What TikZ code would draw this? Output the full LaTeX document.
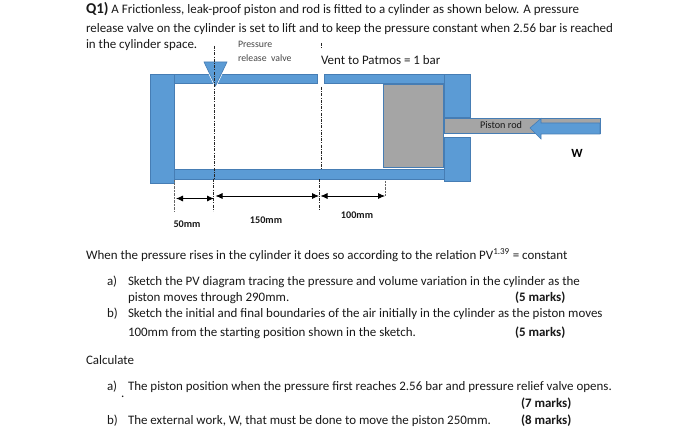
\documentclass[tikz,border=0pt]{standalone}
\usepackage{fontspec}
\setmainfont{Carlito}
\usetikzlibrary{arrows.meta}
\definecolor{cylblue}{RGB}{91,155,213}
\definecolor{cyledge}{RGB}{70,125,180}
\definecolor{pistgrey}{RGB}{165,165,165}
\definecolor{txt}{RGB}{25,25,25}
\tikzset{
  x=1pt,y=-1pt,
  wall/.style={draw=cyledge,line width=.6pt,fill=cylblue},
  grey/.style={draw=cyledge,line width=.8pt,fill=pistgrey},
  tl/.style={anchor=base west,inner sep=0pt,outer sep=0pt,text=txt,font=\fontsize{12.95}{15}\selectfont},
  sm/.style={anchor=base west,inner sep=0pt,outer sep=0pt,text=txt!80,font=\fontsize{9.8}{11}\selectfont},
  dim/.style={anchor=base,inner sep=0pt,outer sep=0pt,text=txt,font=\fontsize{10.2}{11}\selectfont\bfseries},
  cl/.style={black!85,line width=.6pt,dash pattern=on 3pt off 1.2pt on 1pt off 1.2pt},
  ext/.style={black!60,line width=.4pt,densely dotted},
  dimarrow/.style={black,line width=.8pt,{Latex[length=7pt,width=6pt]}-{Latex[length=7pt,width=6pt]}}
}
\begin{document}
\begin{tikzpicture}
\useasboundingbox (0,0) rectangle (700,427);
\fill[white] (0,0) rectangle (700,427);
% text
\node[tl] (l1) at (86,14) {\fontsize{15}{17}\selectfont\textbf{Q1)}\fontsize{12.95}{15}\selectfont{} A Frictionless, leak-proof piston and rod is fitted to a cylinder as shown below. A pressure};
\node[tl] (l2) at (86,32.5) {release valve on the cylinder is set to lift and to keep the pressure constant when 2.56 bar is reached};
\node[tl] (l3) at (86,49) {in the cylinder space.};
\node[sm] (pr1) at (238,48) {Pressure};
\node[sm] (pr2) at (238,62) {release\ \ valve};
\node[tl] (vent) at (321,65) {Vent to Patmos = 1 bar};
% cylinder
\node[draw=none,inner sep=0pt] (wtxt) at (577,153) {\fontsize{12.5}{13}\selectfont\bfseries W};
\draw[wall] (174,74) rectangle (317,83);
\draw[wall] (324,74) rectangle (444,83);
\draw[wall] (174,169) rectangle (444,179);
\draw[wall] (150,74) rectangle (174,183);
\draw[wall] (444,74) rectangle (470,117);
\draw[wall] (444,137) rectangle (470,181);
\draw[grey] (383.5,84.5) rectangle (443,167);
\draw[grey] (444,118) rectangle (600,133);
\node[inner sep=0pt,text=txt,font=\fontsize{10.2}{11}\selectfont] (rod) at (501,124.5) {Piston rod};
\draw[wall] (530,128) -- (541,118.5) -- (541,123) -- (600,123) -- (600,134) -- (541,134) -- (541,139) -- cycle;
\draw[white,line width=2pt] (204,62) -- (215.5,86) -- (227,62);
\draw[wall] (204,62) -- (227,62) -- (215.5,86) -- cycle;
% centre lines
\coordinate (c1a) at (214.5,46);
\coordinate (c1b) at (214.5,179);
\coordinate (c1c) at (213,179);
\coordinate (c1d) at (213,211);
\coordinate (c2a) at (321,43);
\coordinate (c2b) at (321,48);
\coordinate (c2c) at (321,87);
\coordinate (c2d) at (321,170);
\coordinate (c2e) at (319.5,179);
\coordinate (c2f) at (319.5,210);
\draw[cl] (c1a) -- (c1b);
\draw[cl] (c1c) -- (c1d);
\draw[cl] (c2a) -- (c2b);
\draw[cl] (c2c) -- (c2d);
\draw[cl] (c2e) -- (c2f);
\coordinate (e1a) at (174,180);
\coordinate (e1b) at (174,212);
\coordinate (e2a) at (385,181);
\coordinate (e2b) at (385,196);
\draw[ext] (e1a) -- (e1b);
\draw[ext] (e2a) -- (e2b);
% dimensions
\coordinate (d1a) at (176,198.5);
\coordinate (d1b) at (214,198.5);
\coordinate (d2a) at (215.5,196);
\coordinate (d2b) at (319,196);
\coordinate (d3a) at (320.5,196);
\coordinate (d3b) at (385,196);
\draw[dimarrow] (d1a) -- (d1b);
\draw[dimarrow] (d2a) -- (d2b);
\draw[dimarrow] (d3a) -- (d3b);
\node[dim] (m50) at (187,228) {50mm};
\node[dim] (m150) at (266,224) {150mm};
\node[dim] (m100) at (357,219) {100mm};
% lower text
\node[tl] (p1) at (86,259) {When the pressure rises in the cylinder it does so according to the relation PV\textsuperscript{1.39} = constant};
\node[tl] (a1) at (107,285) {a)};
\node[tl] (a2) at (128,285) {Sketch the PV diagram tracing the pressure and volume variation in the cylinder as the};
\node[tl] (a3) at (128,301) {piston moves through 290mm.};
\node[tl] (a4) at (515,301) {\textbf{(5 marks)}};
\node[tl] (b1) at (107,317) {b)};
\node[tl] (b2) at (128,317) {Sketch the initial and final boundaries of the air initially in the cylinder as the piston moves};
\node[tl] (b3) at (128,336) {100mm from the starting position shown in the sketch.};
\node[tl] (b4) at (515,336) {\textbf{(5 marks)}};
\node[tl] (c0) at (86,364) {Calculate};
\node[tl] (q1) at (107,390) {a)};
\node[tl] (q2) at (128,390) {The piston position when the pressure first reaches 2.56 bar and pressure relief valve opens.};
\node[tl] (q3) at (121,397) {.};
\node[tl] (q4) at (521,407) {\textbf{(7 marks)}};
\node[tl] (r1) at (107,424) {b)};
\node[tl] (r2) at (128,424) {The external work, W, that must be done to move the piston 250mm.};
\node[tl] (r4) at (521,424) {\textbf{(8 marks)}};
\end{tikzpicture}
\end{document}
